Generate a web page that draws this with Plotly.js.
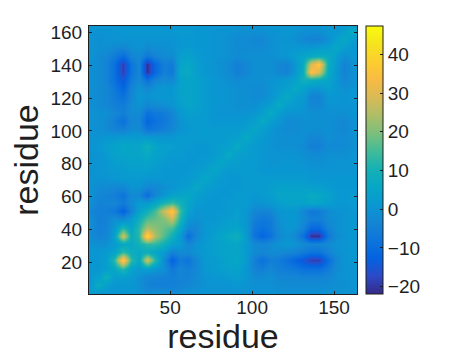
<!DOCTYPE html>
<html><head><meta charset="utf-8">
<script src="https://cdn.plot.ly/plotly-3.0.1.min.js"></script>
<style>html,body{margin:0;padding:0;background:#fff}</style></head>
<body><div id="c" style="width:474px;height:355px"></div>
<script>
const residues=[1,6,11,16,21,26,31,36,41,46,51,56,61,66,71,76,81,86,91,96,101,106,111,116,121,126,131,136,141,146,151,156,161,166];
// lower triangle of the symmetric map, one row per residue node
const tri=[
[3],
[1,8],
[1,3,9],
[1,1,3,6],
[1,1,3,12,40],
[1,1,2,4,13,8],
[0,-1,-1,2,6,6,10],
[-2,-4,-3,3,29,8,13,42],
[-1,-5,-4,1,12,5,13,24,21],
[-1,-5,-4,-1,-2,2,9,16,18,20],
[-3,-5,-5,-7,-13,-4,4,9,15,27,38],
[-1,-4,-4,-3,-6,-2,2,2,6,11,14,10],
[0,-3,-4,-5,-8,-2,-3,-10,-3,1,4,5,6],
[0,-2,-2,-3,-3,0,0,-3,-3,-1,0,2,3,6],
[0,0,0,1,2,2,2,1,1,1,1,1,2,3,6],
[0,0,1,2,2,3,3,3,2,1,1,1,1,2,3,6],
[0,0,1,3,3,4,4,5,3,2,1,1,1,1,2,3,6],
[0,0,2,4,5,5,5,7,4,3,2,2,1,1,1,2,3,7],
[0,1,3,4,6,5,5,9,5,3,3,2,2,1,1,2,3,3,7],
[0,0,1,1,2,2,2,2,1,1,1,2,2,2,2,2,2,3,3,7],
[0,-1,-2,-4,-5,-2,-2,-8,-7,-5,-3,0,1,2,2,2,2,2,2,3,6],
[0,-1,-2,-5,-9,-3,-3,-12,-9,-7,-4,0,2,2,2,1,1,1,1,2,3,7],
[0,-1,-1,-3,-5,-2,-2,-9,-7,-6,-3,1,3,3,2,1,0,0,0,0,1,3,7],
[-1,-2,-3,-5,-6,-2,0,-3,-2,-1,0,3,5,4,2,1,0,0,-1,-1,-1,1,3,7],
[-1,-2,-3,-6,-9,-3,1,0,1,1,1,4,5,4,2,1,1,0,-1,-1,-2,-2,0,3,7],
[-1,-2,-3,-7,-12,-4,0,-3,0,1,1,4,5,4,2,1,0,0,-1,-1,-2,-2,0,2,3,7],
[-1,-2,-4,-9,-15,-6,-2,-9,-4,-2,-3,4,5,4,2,1,0,-1,-2,-1,-1,-1,0,1,2,4,9],
[-1,-2,-4,-9,-19,-8,-3,-21,-11,-5,-7,6,7,3,1,0,-1,-2,-5,-3,-1,-1,-1,-3,-4,1,8,36],
[-1,-2,-4,-9,-19,-8,-3,-21,-11,-5,-6,5,6,3,1,0,-1,-2,-5,-3,-1,-1,-1,-3,-4,1,7,29,37],
[0,-2,-3,-6,-10,-4,-2,-7,-4,-2,-2,3,4,2,1,0,0,-1,-2,-1,-1,-1,-1,0,1,3,5,7,8,7],
[0,-1,-1,-2,-3,-1,0,-2,-1,-1,0,1,2,1,1,0,0,-1,-2,-2,-2,-2,-1,0,1,1,1,1,2,3,6],
[0,-1,0,0,0,0,0,0,0,0,0,1,1,1,1,0,0,-1,-2,-2,-3,-3,-1,0,0,-1,-3,-4,-4,-1,3,6],
[0,0,0,0,1,1,1,1,1,1,1,2,2,1,1,0,0,0,-1,-1,-1,-1,0,0,1,0,-1,-1,-1,1,1,3,7],
[1,1,1,1,1,1,1,1,1,1,1,1,1,1,1,1,1,1,1,1,1,1,1,1,1,1,1,1,1,1,1,1,1,7]
];
const xTicks=[50,100,150], yTicks=[20,40,60,80,100,120,140,160], cTicks=[-20,-10,0,10,20,30,40];
const parula=[[0.2081,0.1663,0.5292],[0.1707,0.2919,0.7792],[0.0117,0.3875,0.8820],[0.0498,0.4586,0.8641],[0.0793,0.5200,0.8312],[0.0343,0.5966,0.8199],[0.0228,0.6535,0.7768],[0.0843,0.6928,0.7062],[0.2586,0.7317,0.5954],[0.4871,0.7491,0.4840],[0.6834,0.7435,0.4044],[0.8507,0.7299,0.3360],[0.9739,0.7314,0.2666],[0.9880,0.8066,0.1794],[0.9589,0.8949,0.1132],[0.9763,0.9831,0.0538]];
const scale=parula.map((c,i)=>[i/(parula.length-1),`rgb(${c.map(v=>Math.round(v*255)).join(',')})`]);
const z=residues.map((_,r)=>residues.map((_,c)=>c<=r?tri[r][c]:tri[c][r]));
const FONT='"Liberation Sans",Helvetica,Arial,sans-serif', INK='#1f1f1f';
Plotly.newPlot('c',[{type:'heatmap',x:residues,y:residues,z:z,zsmooth:'best',colorscale:scale,zmin:-21.9,zmax:47.3,
 colorbar:{x:1.034,xanchor:'left',y:0.5,yanchor:'middle',len:1,thickness:17,xpad:0,ypad:0,outlinecolor:INK,outlinewidth:1,
  tickvals:cTicks,ticks:'inside',ticklen:3,tickcolor:INK,tickfont:{family:FONT,size:19,color:INK}}}],
{width:474,height:355,margin:{l:89,r:117,t:26,b:61},paper_bgcolor:'#fff',plot_bgcolor:'#fff',font:{family:FONT,color:INK},
 xaxis:{range:[0.5,164],tickvals:xTicks,ticks:'inside',ticklen:3,tickcolor:INK,mirror:'allticks',showline:true,linecolor:INK,linewidth:1,showgrid:false,zeroline:false,ticklabelstandoff:-4,
  tickfont:{family:FONT,size:19,color:INK},title:{text:'residue',font:{family:FONT,size:34,color:INK},standoff:1}},
 yaxis:{range:[0.5,164],tickvals:yTicks,ticks:'inside',ticklen:3,tickcolor:INK,mirror:'allticks',showline:true,linecolor:INK,linewidth:1,showgrid:false,zeroline:false,ticklabelstandoff:2,
  tickfont:{family:FONT,size:19,color:INK},title:{text:'residue',font:{family:FONT,size:34,color:INK},standoff:1}}
},{displayModeBar:false,staticPlot:true});
</script></body></html>
